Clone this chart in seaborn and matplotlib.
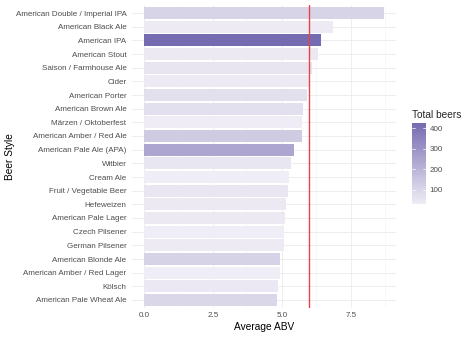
import matplotlib
matplotlib.use("Agg")
import matplotlib.pyplot as plt
import matplotlib.colors as mcolors
import matplotlib.cm as cm
import seaborn as sns
import pandas as pd

styles = [
    "American Double / Imperial IPA", "American Black Ale", "American IPA",
    "American Stout", "Saison / Farmhouse Ale", "Cider", "American Porter",
    "American Brown Ale", "Märzen / Oktoberfest", "American Amber / Red Ale",
    "American Pale Ale (APA)", "Witbier", "Cream Ale", "Fruit / Vegetable Beer",
    "Hefeweizen", "American Pale Lager", "Czech Pilsener", "German Pilsener",
    "American Blonde Ale", "American Amber / Red Lager", "Kölsch",
    "American Pale Wheat Ale",
]
avg_abv = [8.70, 6.86, 6.41, 6.29, 6.10, 6.01, 5.90, 5.76, 5.74, 5.71, 5.43,
           5.33, 5.25, 5.21, 5.13, 5.11, 5.08, 5.06, 4.94, 4.93, 4.87, 4.82]
total_beers = [105, 36, 424, 39, 52, 37, 68, 70, 30, 133, 245,
               51, 29, 49, 40, 39, 28, 36, 108, 29, 42, 97]
overall_mean_abv = 5.98
x_ticks = [0.0, 2.5, 5.0, 7.5]

df = pd.DataFrame({"style": styles, "abv": avg_abv, "n": total_beers})

sns.set_theme(style="whitegrid")
plt.rcParams["font.family"] = ["Liberation Sans", "DejaVu Sans"]

cmap = mcolors.LinearSegmentedColormap.from_list("pur", ["#efedf5", "#756bb1"])
norm = mcolors.Normalize(vmin=min(total_beers), vmax=max(total_beers))
pal = {s: cmap(norm(n)) for s, n in zip(styles, total_beers)}

fig = plt.figure(figsize=(4.74, 3.38), dpi=100)
ax = fig.add_axes([132 / 474, 1 - 308.2 / 338, (396 - 132) / 474, (308.2 - 4.8) / 338])

sns.barplot(data=df, x="abv", y="style", hue="style", palette=pal, order=styles,
            hue_order=styles, legend=False, width=0.9, saturation=1, ax=ax,
            edgecolor="none")
ax.axvline(overall_mean_abv, color="#e8434a", lw=1.0, zorder=5)

xmax = max(avg_abv)
ax.set_xlim(-0.05 * xmax, xmax * 1.05)
ax.set_ylim(len(styles) - 0.4, -0.6)
ax.set_xticks(x_ticks)
ax.set_xticklabels(["0.0", "2.5", "5.0", "7.5"])
ax.set_xticks([1.25, 3.75, 6.25, 8.75], minor=True)
ax.grid(True, which="major", axis="both", color="#ebebeb", lw=0.6)
ax.grid(True, which="minor", axis="x", color="#f3f3f3", lw=0.4)
ax.set_axisbelow(True)
for s in ax.spines.values():
    s.set_visible(False)
ax.tick_params(axis="both", which="both", length=0, labelsize=5.8,
               labelcolor="#4d4d4d")
ax.tick_params(axis="y", pad=4)
ax.tick_params(axis="x", pad=3)
ax.set_xlabel("Average ABV", fontsize=7.3, color="black", labelpad=2)
ax.set_ylabel("Beer Style", fontsize=7.3, color="black")
ax.yaxis.set_label_coords(-0.443, 0.5)

cax = fig.add_axes([411.7 / 474, 1 - 204.3 / 338, 14 / 474, 81 / 338])
sm = cm.ScalarMappable(norm=norm, cmap=cmap)
cb = fig.colorbar(sm, cax=cax)
cb.outline.set_visible(False)
cb.set_ticks([100, 200, 300, 400])
cax.tick_params(length=0, labelsize=5.8, labelcolor="#4d4d4d", pad=3)
for t in [100, 200, 300, 400]:
    cax.plot([0, 0.2], [t, t], color="white", lw=0.5, transform=cax.get_yaxis_transform())
    cax.plot([0.8, 1.0], [t, t], color="white", lw=0.5, transform=cax.get_yaxis_transform())
cax.set_title("Total beers", loc="left", fontsize=7.3, pad=4)

fig.savefig("out.png", dpi=100)
